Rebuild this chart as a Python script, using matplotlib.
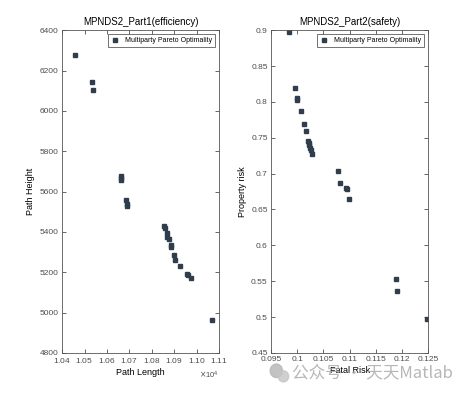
import matplotlib.pyplot as plt
from matplotlib.patches import Ellipse
import numpy as np

plt.rcParams['font.family'] = ['Liberation Sans', 'DejaVu Sans']

# Part 1 (efficiency): path length vs path height
path_length = [10459, 10534, 10537, 10663, 10664, 10665, 10683, 10690, 10691,
               10853, 10860, 10866, 10870, 10876, 10884, 10888, 10899, 10905,
               10925, 10956, 10961, 10974, 11069]
path_height = [6276, 6144, 6103, 5677, 5667, 5655, 5558, 5540, 5530,
               5429, 5420, 5396, 5373, 5365, 5335, 5324, 5285, 5262,
               5229, 5193, 5184, 5170, 4965]

# Part 2 (safety): fatal risk vs property risk
fatal_risk = [0.0984, 0.0996, 0.0999, 0.1000, 0.1007, 0.1013, 0.1016, 0.1021,
              0.1022, 0.1023, 0.1024, 0.1026, 0.1029, 0.1077, 0.1082, 0.1094,
              0.1096, 0.1099, 0.1188, 0.1191, 0.1248]
property_risk = [0.898, 0.819, 0.806, 0.803, 0.787, 0.769, 0.759, 0.746,
                 0.743, 0.740, 0.736, 0.733, 0.727, 0.703, 0.687, 0.680,
                 0.678, 0.664, 0.553, 0.537, 0.497]

marker_color = '#2f3d4c'
tick_color = '#4d4d4d'


def style_axes(ax):
    ax.tick_params(direction='in', top=True, right=True, labelsize=6,
                   colors=tick_color, length=3, width=0.6, pad=2.5)
    for s in ax.spines.values():
        s.set_color('#555555')
        s.set_linewidth(0.6)


def add_legend(ax):
    leg = ax.legend(loc='upper right', fontsize=5, frameon=True, fancybox=False,
                    edgecolor='#333333', borderpad=0.4, handletextpad=0.8,
                    borderaxespad=0.6, handlelength=1.2)
    leg.get_frame().set_linewidth(0.6)


fig = plt.figure(figsize=(4.74, 3.97), dpi=100)

ax1 = fig.add_axes([0.131, 0.111, 0.331, 0.813])
ax1.plot(path_length, path_height, 's', color=marker_color, markersize=3,
         label='Multiparty Pareto Optimality')
ax1.set_xlim(10400, 11100)
ax1.set_ylim(4800, 6400)
ax1.set_xticks(np.arange(10400, 11101, 100))
ax1.set_yticks(np.arange(4800, 6401, 200))
ax1.ticklabel_format(axis='x', style='sci', scilimits=(0, 0), useMathText=True)
ax1.xaxis.get_offset_text().set_fontsize(5.5)
ax1.xaxis.get_offset_text().set_color(tick_color)
ax1.set_xlabel('Path Length', fontsize=6.5, labelpad=2)
ax1.set_ylabel('Path Height', fontsize=6.5, labelpad=3)
ax1.set_title('MPNDS2_Part1(efficiency)', fontsize=7, pad=4)
style_axes(ax1)
add_legend(ax1)

ax2 = fig.add_axes([0.572, 0.111, 0.331, 0.813])
ax2.plot(fatal_risk, property_risk, 's', color=marker_color, markersize=3,
         label='Multiparty Pareto Optimality')
ax2.set_xlim(0.095, 0.125)
ax2.set_ylim(0.45, 0.9)
ax2.set_xticks(np.arange(0.095, 0.1251, 0.005))
ax2.set_xticklabels(['0.095', '0.1', '0.105', '0.11', '0.115', '0.12', '0.125'])
ax2.set_yticks(np.arange(0.45, 0.901, 0.05))
ax2.set_yticklabels(['0.45', '0.5', '0.55', '0.6', '0.65', '0.7', '0.75',
                     '0.8', '0.85', '0.9'])
ax2.set_xlabel('Fatal Risk', fontsize=6.5, labelpad=2)
ax2.set_ylabel('Property risk', fontsize=6.5, labelpad=3)
ax2.set_title('MPNDS2_Part2(safety)', fontsize=7, pad=4)
style_axes(ax2)
add_legend(ax2)

# watermark
fig.text(0.615, 0.06, '公众号 · 天天Matlab', fontsize=12, color='#a5a5a5',
         alpha=0.8, family=['Noto Sans CJK SC', 'DejaVu Sans'],
         ha='left', va='center')
fig.patches.append(Ellipse((0.583, 0.066), 0.026, 0.034, color='#b5b5b5',
                           alpha=0.8, transform=fig.transFigure, figure=fig))
fig.patches.append(Ellipse((0.598, 0.052), 0.022, 0.028, color='#c5c5c5',
                           alpha=0.8, transform=fig.transFigure, figure=fig))

fig.savefig('out.png', dpi=100)
